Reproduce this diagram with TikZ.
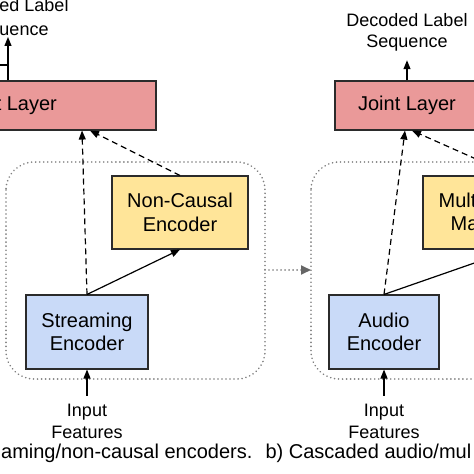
\documentclass[tikz,border=0pt]{standalone}
\usepackage{fontspec}
\setmainfont{Liberation Sans}
\usetikzlibrary{positioning,arrows.meta}
\definecolor{jointred}{HTML}{EA9999}
\definecolor{encyellow}{HTML}{FFE599}
\definecolor{encblue}{HTML}{C9DAF8}
\definecolor{boxline}{HTML}{2B2B2B}
\begin{document}
\begin{tikzpicture}[x=1pt,y=-1pt,>={Triangle[length=9pt,width=7pt]},line width=1.2pt]
	\def\boxh{74pt}
	
	\tikzstyle{block}=[draw=boxline,line width=1.1pt,minimum height=\boxh,inner sep=0pt,align=center,font=\fontsize{20}{23.5}\selectfont]
	\tikzstyle{joint block}=[block,fill=jointred,minimum height=49pt]
	\tikzstyle{deep block}=[block,fill=encyellow,minimum height=73pt]
	\tikzstyle{audio block}=[block,fill=encblue]
	\tikzstyle{annot}=[align=center,inner sep=8pt,font=\fontsize{18}{21.5}\selectfont]
	\tikzstyle{caption}=[inner sep=0pt,font=\fontsize{20}{24}\selectfont]
	\tikzstyle{frame}=[draw=black!50,line width=1.8pt,dash pattern=on 0.01pt off 4pt,line cap=round,rounded corners=28pt]
	\tikzstyle{skip}=[->,dash pattern=on 6pt off 4pt]
	
	\useasboundingbox (0,0) rectangle (474,474);
	\clip (0,0) rectangle (474,474);
	
	% Draw the dotted frames round the encoders
	\draw[frame] (6,162) rectangle (265,379);
	\draw[frame] (311,162) rectangle (600,379);
	\coordinate (F-1) at (265,270);
	\coordinate (F-2) at (311,270);
	\draw[frame,-{Triangle[length=10pt,width=9pt,color=black!60]}] (F-1) -- (F-2);
	
	% Draw the joint layers
	\node[joint block,minimum width=296pt] (JL-1) at (8,105.5) {Joint Layer};
	\node[joint block,minimum width=144pt] (JL-2) at (407,105.5) {Joint Layer};
	
	% Draw the encoders
	\node[audio block,minimum width=122pt] (SE) at (87,332) {Streaming\\Encoder};
	\node[audio block,minimum width=110pt] (AE) at (384,332) {Audio\\Encoder};
	\node[deep block,minimum width=136pt] (NC) at (180,212.5) {Non-Causal\\Encoder};
	\node[deep block,minimum width=180pt] (MM) at (513,212.5) {};
	\node[caption,anchor=base west] (MM-a) at (438,207) {Mult};
	\node[caption,anchor=base west] (MM-b) at (450,230.5) {Ma};
	
	% Draw the outputs
	\node[annot,inner sep=0pt,font=\fontsize{18}{24}\selectfont] (DL-1) at (8,19) {Decoded Label\\Sequence};
	\node[annot] (DL-2) at (407,32.5) {Decoded Label\\Sequence};
	\draw[->,shorten >=-3pt] (JL-1) -- (DL-1);
	\draw[->] (JL-2) -- (DL-2);
	\coordinate (B) at (0,65);
	\draw (B) -- (B -| JL-1);
	
	% Connect the encoders with the joint layers
	\draw[skip] (SE.north) -- ([xshift=74pt]JL-1.south);
	\draw[skip] (NC.north) -- ([xshift=82pt]JL-1.south);
	\draw[skip] (AE.north) -- ([xshift=-2pt]JL-2.south);
	\draw[skip] (MM.north) -- ([xshift=5pt]JL-2.south);
	\draw[->] (SE.north) -- (NC.south);
	\draw[->] (AE.north) -- (MM.south);
	
	% Draw the inputs
	\foreach \name in {SE,AE}
	{
		\node[annot,below=26pt of \name] (IF-\name) {Input\\Features};
		\draw[->] (IF-\name) -- (\name);
	}
	
	% Caption
	\node[caption,anchor=base east] (CAP-a) at (253,458) {aming/non-causal encoders.};
	\node[caption,anchor=base west] (CAP-b) at (265,458) {b) Cascaded audio/mul};
\end{tikzpicture}
\end{document}
